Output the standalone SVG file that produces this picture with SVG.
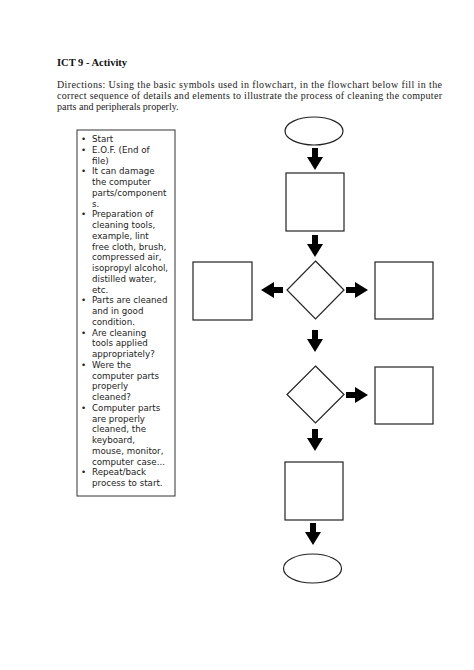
<svg xmlns="http://www.w3.org/2000/svg" xmlns:xlink="http://www.w3.org/1999/xlink" width="474" height="670" viewBox="0 0 474 670">
<style>
.bg{fill:#fff}
.shape{fill:#fff;stroke:#222;stroke-width:1.2}
.hd{font-family:"Liberation Serif","Times New Roman",serif;font-size:10.5px;font-weight:bold;fill:#111}
.dir{font-family:"Liberation Serif","Times New Roman",serif;font-size:10px;fill:#222}
.lst{font-family:"DejaVu Sans",Verdana,sans-serif;font-size:8.7px;fill:#222}
.arr{fill:#000}
</style>
<defs>
<path id="arr" d="M-3,0 H3 V9 H8 L0,22 L-8,9 H-3 Z"/>
</defs>
<rect class="bg" x="0" y="0" width="474" height="670"/>
<g id="header">
<text class="hd" x="57" y="66">ICT 9 - Activity</text>
<text class="dir" x="57" y="88" textLength="385" lengthAdjust="spacing">Directions: Using the basic symbols used in flowchart, in the flowchart below fill in the</text>
<text class="dir" x="57" y="99" textLength="385" lengthAdjust="spacing">correct sequence of details and elements to illustrate the process of cleaning the computer</text>
<text class="dir" x="57" y="110">parts and peripherals properly.</text>
</g>
<g id="list">
<rect x="77" y="130" width="98" height="366" fill="#fff" stroke="#333" stroke-width="1"/>
<g class="lst">
<text x="81" y="142">•</text><text x="92" y="142">Start</text>
<text x="81" y="152.75">•</text><text x="92" y="152.75">E.O.F. (End of</text>
<text x="92" y="163.5">file)</text>
<text x="81" y="174.25">•</text><text x="92" y="174.25">It can damage</text>
<text x="92" y="185">the computer</text>
<text x="92" y="195.75">parts/component</text>
<text x="92" y="206.5">s.</text>
<text x="81" y="217.25">•</text><text x="92" y="217.25">Preparation of</text>
<text x="92" y="228">cleaning tools,</text>
<text x="92" y="238.75">example, lint</text>
<text x="92" y="249.5">free cloth, brush,</text>
<text x="92" y="260.25">compressed air,</text>
<text x="92" y="271">isopropyl alcohol,</text>
<text x="92" y="281.75">distilled water,</text>
<text x="92" y="292.5">etc.</text>
<text x="81" y="303.25">•</text><text x="92" y="303.25">Parts are cleaned</text>
<text x="92" y="314">and in good</text>
<text x="92" y="324.75">condition.</text>
<text x="81" y="335.5">•</text><text x="92" y="335.5">Are cleaning</text>
<text x="92" y="346.25">tools applied</text>
<text x="92" y="357">appropriately?</text>
<text x="81" y="367.75">•</text><text x="92" y="367.75">Were the</text>
<text x="92" y="378.5">computer parts</text>
<text x="92" y="389.25">properly</text>
<text x="92" y="400">cleaned?</text>
<text x="81" y="410.75">•</text><text x="92" y="410.75">Computer parts</text>
<text x="92" y="421.5">are properly</text>
<text x="92" y="432.25">cleaned, the</text>
<text x="92" y="443">keyboard,</text>
<text x="92" y="453.75">mouse, monitor,</text>
<text x="92" y="464.5">computer case...</text>
<text x="81" y="475.25">•</text><text x="92" y="475.25">Repeat/back</text>
<text x="92" y="486">process to start.</text>
</g>
</g>
<g id="start"><ellipse class="shape" cx="314" cy="131" rx="29" ry="14"/></g>
<g id="process1"><rect class="shape" x="286" y="173" width="58" height="58"/></g>
<g id="decision1"><polygon class="shape" points="315.5,261 344,290 315.5,319 287,290"/></g>
<g id="left1"><rect class="shape" x="193" y="262" width="59" height="58"/></g>
<g id="right1"><rect class="shape" x="375" y="262" width="58" height="57"/></g>
<g id="decision2"><polygon class="shape" points="315.5,366 344,394.5 315.5,423 287,394.5"/></g>
<g id="right2"><rect class="shape" x="375" y="367" width="58" height="57"/></g>
<g id="process2"><rect class="shape" x="285" y="462" width="58" height="58"/></g>
<g id="end"><ellipse class="shape" cx="312.5" cy="568.5" rx="29" ry="14.5"/></g>
<g id="connectors" class="arr">
<use xlink:href="#arr" transform="translate(315,148)"/>
<use xlink:href="#arr" transform="translate(315,235)"/>
<use xlink:href="#arr" transform="translate(315,330)"/>
<use xlink:href="#arr" transform="translate(315,429)"/>
<use xlink:href="#arr" transform="translate(313,523)"/>
<use xlink:href="#arr" transform="translate(346,290) rotate(-90)"/>
<use xlink:href="#arr" transform="translate(283,290) rotate(90)"/>
<use xlink:href="#arr" transform="translate(346,395) rotate(-90)"/>
</g>
</svg>
